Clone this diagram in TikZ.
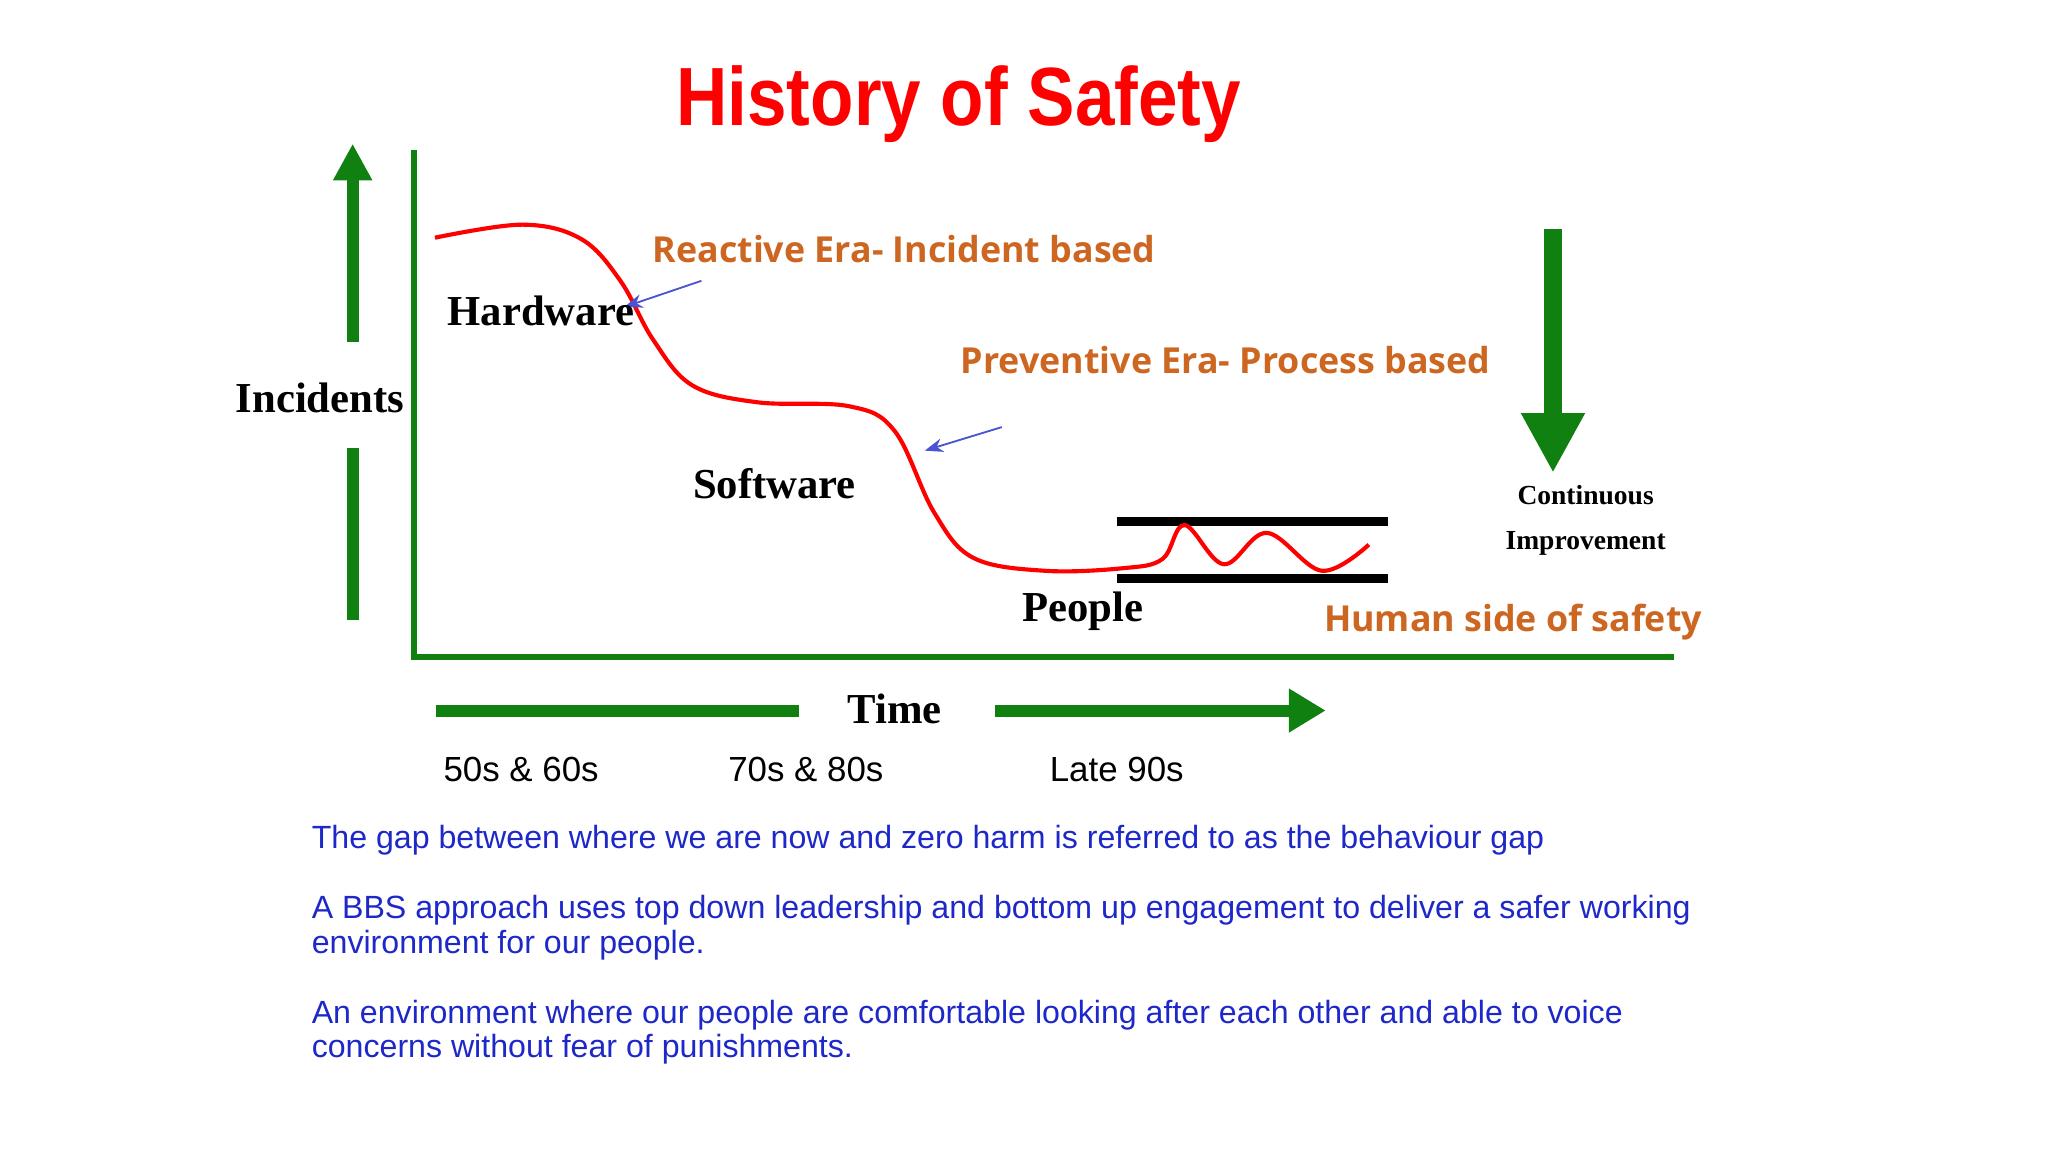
\documentclass[tikz,border=0pt]{standalone}
\usepackage{fontspec}
\setmainfont{Liberation Serif}
\newfontfamily\arialf{Liberation Sans}
\newfontfamily\opensf{Open Sans}
\usetikzlibrary{arrows.meta}
\definecolor{gr}{RGB}{16,128,16}
\definecolor{org}{RGB}{204,102,32}
\definecolor{bl}{RGB}{30,40,200}
\tikzset{
 lbl/.style={font=\bfseries\fontsize{9.3}{11}\selectfont},
 era/.style={text=org,font=\opensf\bfseries\fontsize{7.8}{9}\selectfont,inner sep=0pt},
 yr/.style={font=\arialf\fontsize{7.6}{9}\selectfont},
 para/.style={text=bl,font=\arialf\fontsize{7}{7.5}\selectfont,anchor=north west,align=left,inner sep=0pt},
 gline/.style={draw=gr,line width=1.2pt},
}
\begin{document}
\begin{tikzpicture}[x=0.1mm,y=-0.1mm]
\useasboundingbox (0,0) rectangle (1568,882);
\node[text=red,font=\arialf\bfseries\fontsize{18}{22}\selectfont,xscale=0.86] (title) at (734,80) {History of Safety};
% axes
\coordinate (o) at (317,503); \coordinate (ytop) at (317,115); \coordinate (xend) at (1282,503);
\draw[gline] (ytop) -- (o) -- (xend);
% incidents arrow
\coordinate (ia) at (270,262); \coordinate (ib) at (270,110);
\draw[gr,line width=2.6pt,-{Triangle[length=8pt,width=8pt]}] (ia) -- (ib);
\coordinate (ic) at (270,343); \coordinate (id) at (270,475);
\draw[gr,line width=2.6pt] (ic) -- (id);
\node[lbl] (inc) at (245,305) {Incidents};
% bars
\coordinate (b1) at (855,399); \coordinate (b2) at (1063,399);
\coordinate (b3) at (855,443); \coordinate (b4) at (1063,443);
\draw[line width=2pt] (b1) -- (b2) (b3) -- (b4);
% curve
\draw[red,line width=0.9pt] plot[smooth,tension=0.6] coordinates {(333,182) (400,172) (445,183) (475,215) (500,260) (530,295) (580,308) (650,311) (685,330) (715,392) (745,427) (800,437) (860,435) (890,428) (907,402) (937,432) (970,408) (1012,437) (1048,417)};
% blue arrows
\coordinate (r1) at (537,215); \coordinate (r2) at (478,235);
\coordinate (p1) at (767,327); \coordinate (p2) at (708,345);
\draw[bl!80,line width=0.4pt,-{Stealth[length=4pt,width=3pt]}] (r1) -- (r2);
\draw[bl!80,line width=0.4pt,-{Stealth[length=4pt,width=3pt]}] (p1) -- (p2);
% labels
\node[lbl,anchor=west,inner sep=0pt] (hw) at (342,238) {Hardware};
\node[lbl] (sw) at (593,370) {Software};
\node[lbl] (pp) at (829,468) {People};
\node[era,anchor=west] (re) at (499,191) {Reactive Era- Incident based};
\node[era,anchor=west] (pe) at (735,276) {Preventive Era- Process based};
\node[era,anchor=west] (hs) at (1013,476) {Human side of safety};
% continuous improvement
\coordinate (ca) at (1189,175); \coordinate (cb) at (1189,362);
\draw[gr,line width=4pt,-{Triangle[length=13pt,width=13pt]}] (ca) -- (cb);
\node[font=\bfseries\fontsize{6}{7}\selectfont] (ci1) at (1214,379) {Continuous};
\node[font=\bfseries\fontsize{6}{7}\selectfont] (ci2) at (1214,416) {Improvement};
% time
\coordinate (t1) at (334,544); \coordinate (t2) at (612,544);
\coordinate (t3) at (762,544); \coordinate (t4) at (1015,544);
\draw[gr,line width=2.6pt] (t1) -- (t2);
\draw[gr,line width=2.6pt,-{Triangle[length=8pt,width=9pt]}] (t3) -- (t4);
\node[lbl] (time) at (685,543) {Time};
\node[yr] (y1) at (399,589) {50s \& 60s};
\node[yr] (y2) at (617,589) {70s \& 80s};
\node[yr] (y3) at (855,589) {Late 90s};
% paragraphs
\node[para] (pa) at (238,631) {The gap between where we are now and zero harm is referred to as the behaviour gap};
\node[para] (pb) at (238,685) {A BBS approach uses top down leadership and bottom up engagement to deliver a safer working\\environment for our people.};
\node[para] (pc) at (238,765) {An environment where our people are comfortable looking after each other and able to voice\\concerns without fear of punishments.};
\end{tikzpicture}
\end{document}
